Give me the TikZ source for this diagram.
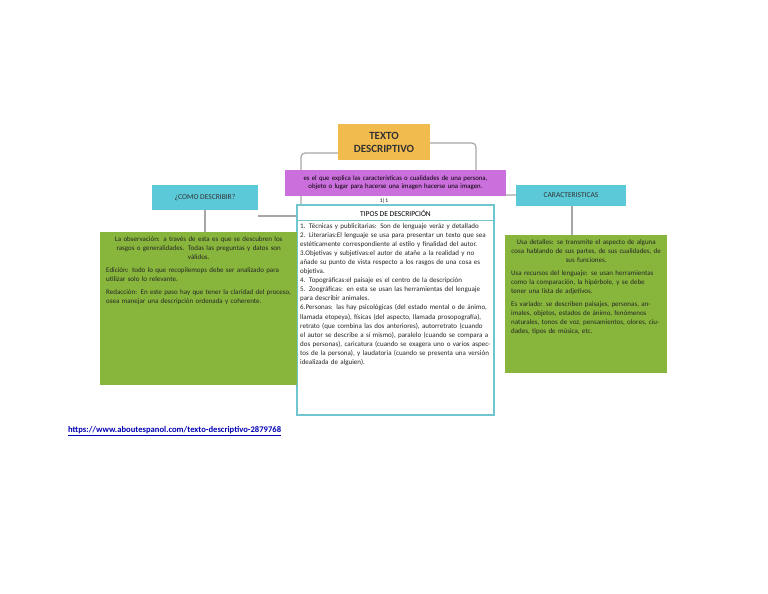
\documentclass[tikz,border=0pt]{standalone}
\usepackage{fontspec}
\setmainfont{Carlito}
\begin{document}
\begin{tikzpicture}[x=1pt,y=-1pt,
  conn/.style={draw=gray!70,line width=1.2pt},
  body/.style={anchor=north west,inner sep=0pt,font=\fontsize{7}{9}\selectfont,text=black!85,align=left}]
\useasboundingbox (0,0) rectangle (768,594);
\definecolor{org}{HTML}{F2BB4E}
\definecolor{pur}{HTML}{CB6FDC}
\definecolor{cyn}{HTML}{5CC9D9}
\definecolor{grn}{HTML}{88B63C}
\definecolor{tl}{HTML}{6FC6CE}
% connectors
\coordinate (lc) at (301,153);
\coordinate (lc2) at (301,207);
\coordinate (rc) at (476,143);
\coordinate (rc2) at (476,195);
\coordinate (ml) at (258,216);
\draw[conn,rounded corners=4pt] (338,153) -- (lc) -- (lc2);
\draw[conn,rounded corners=4pt] (430,143) -- (rc) -- (rc2) -- (516,195);
\draw[conn] (ml) -- (297,216);
\draw[conn] (205,210) -- (205,232);
\draw[conn] (572,206) -- (572,235);
% title
\node[fill=org,minimum width=92pt,minimum height=36pt,align=center,font=\fontsize{11}{13}\selectfont\bfseries,text=black!80] (title) at (384,142) {TEXTO\\DESCRIPTIVO};
\node[fill=pur,minimum width=221pt,minimum height=26pt,text width=216pt,align=center,inner sep=0pt,font=\fontsize{6.8}{8.2}\selectfont] (def) at (395.5,183) {es el que explica las características o cualidades de una persona, objeto o lugar para hacerse una imagen hacerse una imagen.};
\node[font=\fontsize{5.5}{6}\selectfont] (pg) at (384,201) {1|1};
% tipos box
\draw[tl,line width=1.2pt,fill=white] (297,205) rectangle (494,415);
\draw[tl,line width=1pt] (297,220) -- (494,220);
\node[font=\fontsize{7.5}{9}\selectfont] (tipos) at (395.5,213) {TIPOS DE DESCRIPCIÓN};
\node[body,text width=192pt,font=\fontsize{7}{9.1}\selectfont] (tt) at (300,223) {1. Técnicas y publicitarias: Son de lenguaje veráz y detallado\\
2. Literarias:El lenguaje se usa para presentar un texto que sea estéticamente correspondiente al estilo y finalidad del autor.\\
3.Objetivas y subjetivas:el autor de atañe a la realidad y no añade su punto de vista respecto a los rasgos de una cosa es objetiva.\\
4. Topográficas:el paisaje es el centro de la descripción\\
5. Zoográficas: en esta se usan las herramientas del lenguaje para describir animales.\\
6.Personas: las hay psicológicas (del estado mental o de ánimo, llamada etopeya), físicas (del aspecto, llamada prosopografía), retrato (que combina las dos anteriores), autorretrato (cuando el autor se describe a sí mismo), paralelo (cuando se compara a dos personas), caricatura (cuando se exagera uno o varios aspectos de la persona), y laudatoria (cuando se presenta una versión idealizada de alguien).};
% left
\node[fill=cyn,minimum width=106pt,minimum height=25pt,font=\fontsize{7.5}{9}\selectfont,text=black!80] (como) at (205,197.5) {¿COMO DESCRIBIR?};
\fill[grn] (100,232) rectangle (297,385);
\node[body,text width=185pt] (gl) at (106,236) {\centering La observación: a través de esta es que se descubren los rasgos o generalidades. Todas las preguntas y datos son válidos.\par\vspace{4pt}
\raggedright Edición: todo lo que recopilemops debe ser analizado para utilizar solo lo relevante.\par\vspace{4pt}
Redacción: En este paso hay que tener la claridad del proceso, osea manejar una descripción ordenada y coherente.};
% right
\node[fill=cyn,minimum width=110pt,minimum height=21pt,font=\fontsize{7.5}{9}\selectfont,text=black!80] (car) at (571,195.5) {CARACTERISTICAS};
\fill[grn] (505,235) rectangle (667,373);
\node[body,text width=150pt] (gr) at (511,239) {\centering Usa detalles: se transmite el aspecto de alguna cosa hablando de sus partes, de sus cualidades, de sus funciones.\par\vspace{4pt}
\raggedright Usa recursos del lenguaje: se usan herramientas como la comparación, la hipérbole, y se debe tener una lista de adjetivos.\par\vspace{4pt}
Es variado: se describen paisajes, personas, animales, objetos, estados de ánimo, fenómenos naturales, tonos de voz, pensamientos, olores, ciudades, tipos de música, etc.};
% url
\node[anchor=west,inner sep=0pt,font=\fontsize{8.6}{10}\selectfont\bfseries,text=blue!70!black] (url) at (68,431) {\underline{https://www.aboutespanol.com/texto-descriptivo-2879768}};
\end{tikzpicture}
\end{document}
